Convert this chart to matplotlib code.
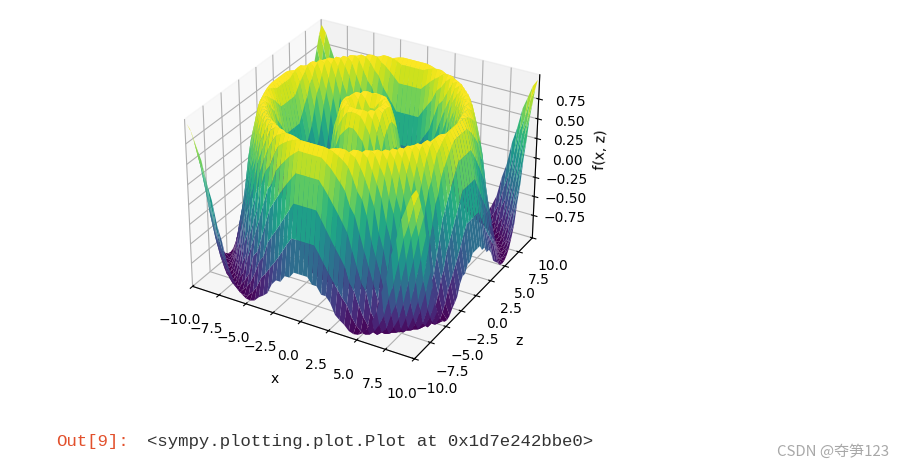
import matplotlib
matplotlib.use('Agg')
import matplotlib.pyplot as plt
import numpy as np

# height of the surface, going outwards from the centre
radiusStep = 0.1
listHeight = [0.00, 0.10, 0.20, 0.30, 0.39, 0.48, 0.56, 0.64, 0.72, 0.78,
              0.84, 0.89, 0.93, 0.96, 0.99, 1.00, 1.00, 0.99, 0.97, 0.95,
              0.91, 0.86, 0.81, 0.75, 0.68, 0.60, 0.52, 0.43, 0.33, 0.24,
              0.14, 0.04, -0.06, -0.16, -0.26, -0.35, -0.44, -0.53, -0.61, -0.69,
              -0.76, -0.82, -0.87, -0.92, -0.95, -0.98, -0.99, -1.00, -1.00, -0.98,
              -0.96, -0.93, -0.88, -0.83, -0.77, -0.71, -0.63, -0.55, -0.46, -0.37,
              -0.28, -0.18, -0.08, 0.02, 0.12, 0.22, 0.31, 0.40, 0.49, 0.58,
              0.66, 0.73, 0.79, 0.85, 0.90, 0.94, 0.97, 0.99, 1.00, 1.00,
              0.99, 0.97, 0.94, 0.90, 0.85, 0.80, 0.73, 0.66, 0.58, 0.50,
              0.41, 0.32, 0.22, 0.12, 0.02, -0.08, -0.17, -0.27, -0.37, -0.46,
              -0.54, -0.63, -0.70, -0.77, -0.83, -0.88, -0.92, -0.96, -0.98, -1.00,
              -1.00, -0.99, -0.98, -0.95, -0.92, -0.88, -0.82, -0.76, -0.69, -0.62,
              -0.54, -0.45, -0.36, -0.26, -0.17, -0.07, 0.03, 0.13, 0.23, 0.33,
              0.42, 0.51, 0.59, 0.67, 0.74, 0.80, 0.86, 0.90, 0.94, 0.97,
              0.99, 1.00, 1.00]
# the surface stops just short of the box in the picture
listX = np.linspace(-9.9, 9.9, 50)
listZ = np.linspace(-9.9, 9.9, 50)
xTicks = [-10.0, -7.5, -5.0, -2.5, 0.0, 2.5, 5.0, 7.5, 10.0]
zTicks = [-0.75, -0.50, -0.25, 0.00, 0.25, 0.50, 0.75]

fig = plt.figure(figsize=(9.04, 4.68), dpi=100)
ax = fig.add_axes([0.158, 0.180, 0.481, 0.844], projection='3d')

# each grid point takes the profile value nearest to its distance from the centre
gridX, gridZ = np.meshgrid(listX, listZ)
index = np.rint(np.hypot(gridX, gridZ) / radiusStep).astype(int)
gridY = np.array(listHeight)[index]
ax.plot_surface(gridX, gridZ, gridY, cmap='viridis', rstride=1, cstride=1, linewidth=0.1)

ax.set_xlim(-10, 10)
ax.set_ylim(-10, 10)
ax.set_zlim(-1.05, 1.05)
ax.set_xticks(xTicks)
ax.set_yticks(xTicks)
ax.set_zticks(zTicks)
ax.set_xlabel('x', labelpad=8)
ax.set_ylabel('z', labelpad=8)
ax.set_zlabel('f(x, z)', labelpad=8)
ax.tick_params(labelsize=10, pad=6)

# the notebook cell output below the figure
fig.text(0.0625, 0.057, 'Out[9]:', family='Liberation Mono', fontsize=12.5, color='#e2502c', va='center')
fig.text(0.163, 0.057, '<sympy.plotting.plot.Plot at 0x1d7e242bbe0>', family='Liberation Mono',
         fontsize=12.5, color='#333333', va='center')
fig.text(0.8595, 0.036, 'CSDN @夺笋123', family=['Noto Sans CJK SC', 'DejaVu Sans'], fontsize=10.8,
         color='#a8a8a8', va='center')

fig.savefig('out.png', dpi=100)
